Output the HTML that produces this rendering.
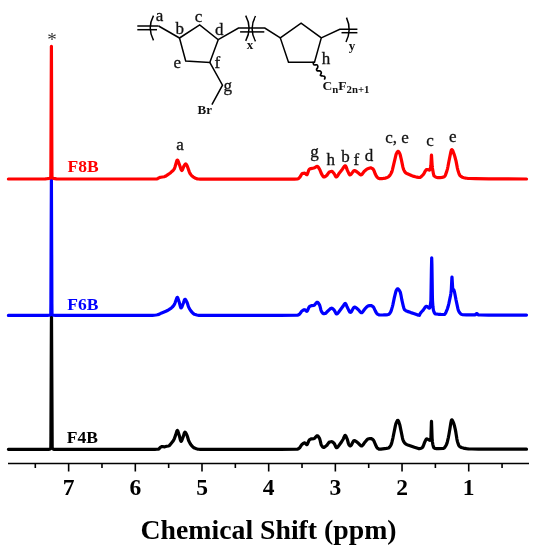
<!DOCTYPE html>
<html><head><meta charset="utf-8"><style>
html,body{margin:0;padding:0;background:#fff;}
body{width:535px;height:550px;overflow:hidden;}
svg{display:block;}
text{font-family:"Liberation Serif",serif;}
</style></head><body>
<svg width="535" height="550" viewBox="0 0 535 550">
<rect width="535" height="550" fill="#fff"/>
<!-- structure -->
<g fill="none" stroke="#000" stroke-width="1.5" stroke-linejoin="miter">
<line x1="137.3" y1="26" x2="158.6" y2="26"/>
<line x1="137.3" y1="29.7" x2="157" y2="29.7"/>
<path d="M153.5,15.7 Q147,28 153.5,40.3"/>
<path d="M158.6,26 L179.5,38"/>
<path d="M179.5,38 L199.7,24.9 L218.2,39.7 L209.8,62.4 L185.7,61 Z"/>
<path d="M218.2,39.7 L238.5,28 L264.8,28 L280.3,37.9"/>
<line x1="240.1" y1="31.9" x2="264.3" y2="31.9"/>
<path d="M245.7,15.7 Q252.5,28.3 245.7,40.9"/>
<path d="M255.5,16 Q248.7,28.7 255.5,41.4"/>
<path d="M209.8,62.4 L222.5,85.2 L211.9,104.7"/>
<path d="M280.3,37.9 L301.1,23.1 L321.3,37.9 L314.5,62.2 L288.5,62.2 Z"/>
<path d="M321.3,37.9 L339.8,29.3 L357.4,29.3"/>
<line x1="341.5" y1="32.7" x2="357.4" y2="32.7"/>
<path d="M346.5,17.6 Q352,29.8 346,42"/>
<path stroke-width="1.7" stroke-linejoin="round" stroke-linecap="round" d="M313.24,62.37 C313.28,62.66 313.24,63.68 313.46,64.11 C313.68,64.55 314.00,64.88 314.55,64.99 C315.10,65.10 316.19,64.55 316.73,64.77 C317.28,64.99 317.72,65.75 317.83,66.30 C317.93,66.84 317.61,67.53 317.39,68.04 C317.17,68.55 316.55,68.92 316.52,69.35 C316.48,69.79 316.77,70.41 317.17,70.66 C317.57,70.92 318.33,70.77 318.92,70.88 C319.50,70.99 320.26,70.99 320.66,71.32 C321.06,71.65 321.32,72.34 321.32,72.85 C321.32,73.36 320.81,73.94 320.66,74.38 C320.52,74.81 320.23,75.21 320.45,75.47 C320.66,75.72 321.36,75.76 321.97,75.90 C322.59,76.05 323.65,76.05 324.16,76.34 C324.67,76.63 324.96,77.21 325.03,77.65 C325.10,78.09 324.67,78.74 324.59,78.96"/>
</g>
<g font-size="17" fill="#111" stroke="#111" stroke-width="0.3">
<text x="155.8" y="21">a</text>
<text x="175.4" y="33.6">b</text>
<text x="194.7" y="21.8">c</text>
<text x="215" y="35">d</text>
<text x="173.6" y="68">e</text>
<text x="214.6" y="67.5">f</text>
<text x="223.6" y="90.7">g</text>
<text x="321.8" y="63.6">h</text>
</g>
<g font-size="13" font-weight="bold" fill="#111">
<text x="246.8" y="49.2">x</text>
<text x="348.8" y="49.5">y</text>
<text x="197.5" y="113.5">Br</text>
<text x="322.5" y="90.3" font-size="13.5">C<tspan font-size="10.8" dy="2.6">n</tspan><tspan dy="-2.6">F</tspan><tspan font-size="10.8" dy="2.6">2n+1</tspan></text>
</g>
<!-- asterisk -->
<text x="52" y="46" font-size="19" fill="#333" text-anchor="middle">*</text>
<!-- peak labels -->
<g font-size="17" fill="#111" stroke="#111" stroke-width="0.3" text-anchor="middle">
<text x="180" y="149.8">a</text>
<text x="314.6" y="156.6">g</text>
<text x="330.8" y="165.2">h</text>
<text x="345.6" y="161.5">b</text>
<text x="356.4" y="164.7">f</text>
<text x="368.9" y="161.2">d</text>
<text x="397" y="143.4">c, e</text>
<text x="430" y="146">c</text>
<text x="452.7" y="141.6">e</text>
</g>
<!-- spectra -->
<g fill="none" stroke-width="3.2" stroke-linejoin="round" stroke-linecap="round">
<path stroke="#000" d="M8.40,449.30 L49.00,449.30 L49.40,449.26 L49.90,449.05 L50.40,448.63 L50.80,448.10 L50.90,440.67 L51.40,323.30 L51.50,316.00 L52.20,448.10 L52.90,448.91 L53.40,449.20 L54.00,449.30 L155.00,449.30 L156.90,449.24 L158.50,449.10 L158.90,448.92 L159.90,447.86 L160.90,447.04 L161.40,446.69 L161.90,446.51 L162.40,446.52 L164.40,446.79 L164.90,446.78 L166.60,446.30 L168.40,445.95 L168.90,445.80 L169.40,445.50 L169.90,445.01 L172.90,441.33 L173.90,439.71 L174.40,438.56 L175.70,434.90 L176.90,430.90 L177.30,430.40 L177.40,430.43 L177.90,431.22 L178.40,432.70 L179.40,435.96 L180.40,439.99 L180.90,441.18 L181.10,441.30 L181.40,441.13 L181.90,440.26 L183.40,436.15 L184.40,432.81 L184.90,432.10 L185.40,432.38 L185.90,433.10 L186.40,434.09 L187.00,435.40 L187.40,436.50 L188.60,440.50 L189.90,443.16 L190.40,443.99 L191.20,445.10 L192.90,447.00 L193.90,447.80 L194.50,448.10 L196.40,448.73 L197.90,449.09 L198.90,449.24 L200.00,449.30 L280.40,449.30 L297.50,449.10 L297.90,449.02 L298.40,448.77 L299.70,447.70 L300.40,446.79 L301.40,445.13 L301.90,444.49 L302.90,443.67 L303.90,443.05 L304.60,442.90 L304.90,442.99 L305.40,443.44 L306.40,444.54 L306.80,444.70 L306.90,444.68 L307.40,444.13 L308.90,440.61 L309.40,439.90 L310.40,439.25 L311.40,438.86 L313.90,438.60 L314.40,438.38 L314.90,437.94 L316.40,436.26 L316.90,435.90 L317.30,435.80 L317.90,436.06 L318.40,436.61 L319.50,438.40 L319.90,439.50 L320.90,443.68 L321.40,445.10 L322.40,446.58 L322.90,447.10 L323.40,447.37 L323.60,447.40 L323.90,447.37 L324.40,447.20 L324.90,446.90 L326.90,445.21 L328.40,443.11 L328.90,442.51 L329.40,442.14 L329.90,441.98 L330.90,441.76 L331.70,441.70 L332.40,441.89 L332.90,442.22 L334.00,443.20 L334.40,443.76 L335.90,447.03 L336.40,447.64 L336.60,447.70 L336.90,447.65 L337.40,447.36 L337.90,446.88 L340.90,442.79 L343.00,439.50 L343.40,438.70 L344.40,436.32 L344.90,435.55 L345.20,435.40 L345.40,435.46 L345.90,436.07 L347.10,438.80 L347.40,439.67 L348.40,443.49 L348.90,444.70 L349.40,445.29 L349.90,445.73 L350.40,445.90 L350.90,445.65 L351.40,444.99 L352.90,442.04 L353.40,441.21 L353.90,440.69 L354.20,440.60 L354.90,440.74 L355.90,441.31 L358.40,443.31 L359.90,444.88 L360.40,445.34 L360.90,445.69 L361.40,445.88 L361.90,445.84 L362.40,445.51 L362.90,444.96 L364.40,442.81 L366.40,440.41 L367.40,439.36 L367.90,439.02 L368.90,438.72 L369.90,438.54 L370.90,438.52 L371.40,438.65 L371.90,438.88 L372.90,439.55 L373.40,440.03 L373.90,440.92 L375.40,444.50 L376.40,446.64 L376.90,447.55 L377.20,447.90 L377.90,448.47 L378.90,449.06 L379.60,449.20 L380.90,449.15 L386.40,448.44 L387.40,448.25 L388.40,447.97 L388.90,447.75 L389.40,447.33 L389.90,446.73 L390.40,445.97 L391.10,444.70 L391.40,443.97 L391.90,442.23 L392.90,438.04 L395.40,425.64 L395.90,423.68 L396.90,421.28 L397.40,420.52 L397.80,420.30 L397.90,420.32 L398.40,420.94 L398.90,422.17 L399.90,425.35 L402.40,437.65 L402.90,439.76 L403.40,441.01 L403.90,441.90 L404.40,442.62 L404.90,443.20 L405.60,443.80 L406.90,444.59 L407.90,445.05 L414.40,447.33 L418.40,448.57 L419.40,448.70 L420.40,448.54 L421.40,448.12 L422.40,447.50 L422.90,446.84 L423.40,445.70 L424.40,442.91 L424.90,441.70 L425.90,439.63 L426.40,438.97 L426.60,438.90 L426.90,438.93 L427.40,439.10 L429.40,440.12 L429.90,440.29 L430.00,440.30 L430.40,439.90 L430.90,438.30 L431.40,422.50 L431.50,421.30 L432.10,438.30 L432.40,441.63 L432.80,444.30 L433.40,446.71 L433.90,447.82 L434.00,447.90 L434.90,448.32 L435.90,448.56 L438.40,448.59 L443.10,448.50 L443.40,448.45 L443.90,448.19 L444.40,447.75 L444.90,447.15 L445.40,446.42 L446.40,444.70 L446.90,443.45 L447.40,441.67 L448.40,437.30 L448.90,434.72 L450.00,428.30 L450.90,422.62 L451.40,420.27 L451.70,419.80 L451.90,419.86 L452.40,420.42 L452.90,421.42 L453.90,423.94 L454.40,425.62 L455.40,429.90 L455.90,432.66 L456.90,439.07 L457.40,441.40 L458.40,444.49 L458.90,445.62 L459.40,446.30 L460.40,447.02 L461.40,447.50 L463.40,448.07 L466.40,448.63 L468.40,448.85 L471.90,448.98 L478.40,449.09 L492.90,449.18 L526.50,449.20"/>
<path stroke="#0000ff" d="M8.40,315.40 L47.40,315.37 L49.40,315.25 L49.90,315.05 L50.40,314.63 L50.80,314.10 L50.90,304.02 L51.40,179.50 L51.90,304.02 L52.00,314.10 L52.40,314.63 L52.90,315.05 L53.40,315.25 L55.40,315.35 L59.40,315.40 L150.00,315.40 L152.40,315.31 L155.90,315.00 L157.40,314.74 L158.90,314.34 L161.70,312.90 L165.90,311.30 L167.40,310.54 L168.90,309.66 L170.40,308.70 L171.40,307.94 L172.90,306.51 L173.90,305.23 L174.40,304.42 L174.90,303.28 L176.90,297.77 L177.30,297.30 L177.40,297.33 L177.90,298.13 L179.40,302.82 L180.40,306.66 L180.90,307.78 L181.10,307.90 L181.40,307.74 L181.90,306.90 L183.40,302.99 L184.40,299.94 L184.90,299.30 L185.40,299.55 L185.90,300.20 L187.00,302.30 L187.40,303.33 L188.40,306.61 L189.40,308.67 L190.40,310.27 L191.90,312.12 L192.90,313.19 L193.40,313.64 L193.90,314.00 L194.40,314.26 L196.90,315.01 L198.90,315.35 L200.00,315.40 L280.40,315.40 L297.50,315.20 L297.90,315.13 L298.40,314.89 L299.70,313.90 L300.40,313.06 L301.40,311.54 L301.90,310.98 L303.40,310.03 L303.90,309.82 L304.40,309.71 L304.90,309.78 L305.40,310.18 L306.40,311.16 L306.80,311.30 L306.90,311.28 L307.40,310.76 L308.90,307.39 L309.40,306.70 L310.40,306.07 L311.40,305.67 L313.90,305.30 L314.40,305.04 L314.90,304.56 L316.40,302.78 L316.90,302.41 L317.30,302.30 L317.90,302.56 L318.40,303.11 L319.50,304.90 L319.90,305.97 L320.90,309.94 L321.40,311.30 L322.40,312.77 L322.90,313.30 L323.40,313.57 L324.40,313.56 L325.00,313.50 L325.40,313.37 L325.90,313.04 L327.40,311.46 L329.90,309.14 L330.90,308.42 L331.40,308.23 L331.70,308.20 L331.90,308.22 L332.40,308.43 L332.90,308.81 L334.00,309.90 L334.40,310.44 L335.90,313.32 L336.40,313.85 L336.60,313.90 L336.90,313.85 L337.40,313.57 L337.90,313.09 L338.40,312.47 L343.00,306.30 L344.40,304.03 L344.90,303.50 L345.20,303.40 L345.40,303.47 L345.90,304.14 L346.90,306.47 L348.90,310.63 L349.40,311.53 L349.90,312.16 L350.40,312.40 L350.90,312.18 L351.40,311.61 L353.40,308.04 L353.90,307.41 L354.50,307.10 L354.90,307.15 L355.40,307.35 L356.40,308.04 L358.40,309.75 L359.90,311.53 L360.40,312.06 L360.90,312.46 L361.40,312.68 L361.90,312.64 L362.40,312.29 L362.90,311.71 L364.40,309.50 L364.90,308.90 L366.40,307.25 L367.40,306.32 L367.90,306.01 L368.40,305.85 L369.40,305.62 L370.60,305.50 L371.40,305.66 L371.90,305.89 L372.90,306.55 L373.40,307.02 L373.90,307.87 L375.40,311.12 L376.40,312.89 L376.90,313.62 L377.20,313.90 L377.90,314.37 L378.90,314.86 L379.70,315.00 L383.40,314.95 L385.90,314.85 L387.90,314.55 L388.50,314.40 L388.90,314.21 L389.40,313.78 L389.90,313.16 L390.60,312.10 L390.90,311.50 L391.40,310.12 L392.40,306.60 L392.90,304.57 L394.40,297.41 L395.90,291.29 L396.30,290.30 L396.90,289.39 L397.40,288.89 L397.70,288.80 L397.90,288.84 L398.40,289.24 L399.40,290.48 L400.10,291.70 L400.40,292.59 L400.90,294.83 L401.90,300.17 L403.40,306.51 L403.90,308.26 L404.40,309.44 L404.60,309.70 L405.40,310.35 L405.90,310.68 L407.40,311.37 L410.90,312.60 L414.40,313.70 L417.90,315.06 L418.90,315.27 L419.40,315.30 L420.00,313.90 L420.40,313.27 L421.40,312.01 L423.20,310.10 L424.90,307.58 L425.40,306.93 L425.90,306.47 L426.40,306.30 L426.90,306.43 L427.40,306.77 L428.40,307.65 L428.90,308.01 L429.40,308.19 L429.50,308.20 L429.90,307.53 L430.40,304.88 L430.90,300.30 L431.40,270.47 L431.70,257.80 L431.90,263.75 L432.40,297.07 L432.50,300.30 L432.90,306.28 L433.40,310.10 L433.90,311.73 L434.40,312.94 L434.90,313.67 L435.30,313.90 L438.40,314.28 L440.90,314.44 L444.20,314.50 L444.40,314.47 L444.90,314.10 L445.40,313.41 L445.90,312.45 L447.40,308.80 L447.90,307.34 L448.90,303.40 L450.40,296.13 L450.90,293.15 L451.30,289.80 L451.90,277.59 L452.00,277.00 L452.70,288.80 L452.90,289.08 L453.70,289.70 L453.90,290.07 L454.40,291.68 L454.90,294.00 L455.90,299.32 L457.40,306.41 L457.90,308.67 L458.40,310.47 L458.80,311.40 L459.90,312.98 L460.40,313.55 L460.90,314.00 L461.40,314.32 L461.90,314.49 L462.40,314.54 L466.40,314.83 L469.40,314.90 L475.00,314.90 L475.40,314.70 L476.40,313.62 L476.70,313.50 L476.90,313.55 L477.40,314.01 L477.90,314.60 L478.40,314.90 L480.40,314.98 L488.40,315.10 L526.50,315.10"/>
<path stroke="#ff0000" d="M8.40,179.00 L34.40,178.99 L45.40,178.89 L46.90,178.75 L49.40,178.34 L49.90,178.19 L50.40,177.93 L50.80,177.60 L50.90,167.81 L51.40,46.30 L51.90,167.81 L52.00,177.60 L52.40,177.93 L52.90,178.18 L53.40,178.33 L56.40,178.88 L58.00,179.00 L155.00,179.00 L156.90,178.82 L157.40,178.70 L157.90,178.48 L159.40,177.63 L159.90,177.43 L160.90,177.21 L163.90,176.77 L164.60,176.60 L165.40,176.28 L166.40,175.66 L169.90,173.19 L170.90,172.40 L172.40,171.05 L173.40,170.04 L173.90,169.39 L174.40,168.60 L174.90,167.29 L176.90,160.50 L177.30,160.00 L177.40,160.02 L177.90,160.63 L178.40,161.84 L179.90,165.94 L180.90,168.97 L181.40,170.07 L181.90,170.50 L182.40,169.98 L183.90,166.07 L184.90,164.51 L185.40,164.00 L185.70,163.90 L185.90,163.96 L186.40,164.52 L187.40,166.50 L189.40,172.09 L189.90,173.25 L190.90,174.72 L191.40,175.31 L192.40,176.28 L193.40,177.03 L194.90,177.96 L196.40,178.66 L197.40,178.90 L198.40,179.01 L200.00,179.10 L290.40,179.10 L294.40,179.04 L297.50,178.90 L297.90,178.81 L298.40,178.53 L298.90,178.14 L299.90,177.18 L300.40,176.42 L301.40,174.58 L301.90,173.88 L302.30,173.60 L303.40,173.32 L304.60,173.20 L304.90,173.28 L305.40,173.65 L306.40,174.57 L306.80,174.70 L306.90,174.68 L307.40,174.00 L308.90,169.81 L309.40,169.10 L309.90,168.87 L310.90,168.58 L313.90,168.00 L314.40,167.81 L316.40,166.63 L316.90,166.45 L317.30,166.40 L317.90,166.70 L318.40,167.30 L319.50,169.10 L319.90,169.91 L320.90,172.52 L321.40,173.60 L322.40,175.37 L322.90,176.15 L323.40,176.72 L323.90,176.99 L324.40,176.95 L324.90,176.74 L325.40,176.44 L326.90,175.21 L328.90,172.36 L329.40,171.94 L330.90,171.48 L331.70,171.40 L331.90,171.43 L332.40,171.69 L332.90,172.17 L334.00,173.50 L334.40,174.12 L335.40,176.16 L335.90,176.86 L336.20,177.00 L336.40,176.97 L336.90,176.66 L337.40,176.08 L339.40,172.93 L342.40,169.24 L343.90,166.96 L344.40,166.33 L344.90,165.91 L345.30,165.80 L345.40,165.82 L345.90,166.45 L347.40,170.30 L348.90,173.65 L349.40,174.49 L349.90,174.89 L350.40,174.80 L350.90,174.45 L351.40,173.91 L352.90,171.84 L353.40,171.25 L353.90,170.81 L354.50,170.60 L354.90,170.65 L355.40,170.83 L355.90,171.12 L358.40,172.99 L359.90,174.40 L360.40,174.74 L360.90,174.90 L361.40,174.80 L361.90,174.42 L362.40,173.85 L363.90,171.75 L364.40,171.19 L366.40,169.53 L367.40,168.87 L368.40,168.43 L369.90,167.97 L370.40,167.91 L370.90,167.92 L371.40,168.05 L372.40,168.58 L373.10,169.10 L373.40,169.45 L373.90,170.45 L375.40,174.30 L376.40,176.22 L376.90,176.99 L377.20,177.30 L378.40,178.17 L379.40,178.62 L380.00,178.70 L381.90,178.61 L383.40,178.44 L385.40,178.12 L386.40,177.83 L387.90,177.13 L388.90,176.45 L389.40,175.94 L389.90,175.31 L390.90,173.74 L391.50,172.60 L391.90,171.59 L392.40,169.87 L395.90,155.06 L396.40,153.61 L396.90,152.64 L397.40,151.83 L397.90,151.35 L398.10,151.30 L398.40,151.40 L398.90,151.96 L399.40,152.82 L399.90,153.87 L400.40,155.57 L401.40,159.90 L402.90,167.17 L403.40,168.90 L403.90,170.09 L404.40,171.10 L404.90,171.92 L405.50,172.60 L406.40,173.26 L406.90,173.56 L411.40,175.53 L412.90,176.09 L415.40,176.81 L416.90,177.19 L418.40,177.44 L419.40,177.50 L419.90,177.42 L420.40,177.20 L420.90,176.87 L421.90,175.99 L423.40,174.43 L423.90,173.63 L425.40,170.85 L425.90,170.11 L426.40,169.63 L426.80,169.50 L427.40,169.57 L428.90,170.01 L429.40,170.09 L429.60,170.10 L429.90,169.82 L430.40,168.28 L430.80,166.30 L430.90,165.27 L431.40,155.65 L431.50,155.10 L432.20,166.30 L432.40,167.91 L433.40,173.65 L433.90,175.65 L434.00,175.80 L434.90,176.51 L435.40,176.83 L436.40,177.30 L436.90,177.46 L437.90,177.66 L438.70,177.70 L439.90,177.66 L441.90,177.38 L442.90,177.14 L444.30,176.70 L444.90,176.12 L445.40,175.16 L446.40,172.42 L447.40,169.10 L447.90,166.78 L448.90,161.42 L450.90,151.66 L451.40,150.05 L451.80,149.60 L451.90,149.62 L452.40,150.09 L452.90,151.08 L454.40,155.13 L454.90,156.73 L456.00,160.90 L457.40,168.11 L457.90,170.20 L458.90,173.29 L459.40,174.53 L459.90,175.45 L460.20,175.80 L461.40,176.70 L462.40,177.22 L463.90,177.70 L465.90,178.08 L467.40,178.29 L469.90,178.50 L475.40,178.68 L488.90,178.89 L526.50,179.00"/>
</g>
<g font-size="17.5" font-weight="bold">
<text x="67.5" y="172" fill="#ff0000">F8B</text>
<text x="67.3" y="309.5" fill="#0000ff">F6B</text>
<text x="66.8" y="442.8" fill="#000">F4B</text>
</g>
<!-- axis -->
<g stroke="#000" stroke-width="1.6">
<line x1="8.0" y1="463.5" x2="529" y2="463.5"/>
<line x1="468.72" y1="463.5" x2="468.72" y2="471.5"/>
<line x1="402.04" y1="463.5" x2="402.04" y2="471.5"/>
<line x1="335.36" y1="463.5" x2="335.36" y2="471.5"/>
<line x1="268.68" y1="463.5" x2="268.68" y2="471.5"/>
<line x1="202.00" y1="463.5" x2="202.00" y2="471.5"/>
<line x1="135.32" y1="463.5" x2="135.32" y2="471.5"/>
<line x1="68.64" y1="463.5" x2="68.64" y2="471.5"/>
<line x1="502.06" y1="463.5" x2="502.06" y2="468"/>
<line x1="435.38" y1="463.5" x2="435.38" y2="468"/>
<line x1="368.70" y1="463.5" x2="368.70" y2="468"/>
<line x1="302.02" y1="463.5" x2="302.02" y2="468"/>
<line x1="235.34" y1="463.5" x2="235.34" y2="468"/>
<line x1="168.66" y1="463.5" x2="168.66" y2="468"/>
<line x1="101.98" y1="463.5" x2="101.98" y2="468"/>
<line x1="35.30" y1="463.5" x2="35.30" y2="468"/>
</g>
<g font-size="23.5" font-weight="bold" text-anchor="middle" fill="#000">
<text x="468.72" y="494.6">1</text>
<text x="402.04" y="494.6">2</text>
<text x="335.36" y="494.6">3</text>
<text x="268.68" y="494.6">4</text>
<text x="202.00" y="494.6">5</text>
<text x="135.32" y="494.6">6</text>
<text x="68.64" y="494.6">7</text>
</g>
<text x="268.55" y="538.8" font-size="27.75" font-weight="bold" text-anchor="middle" fill="#000">Chemical Shift (ppm)</text>
</svg>
</body></html>
